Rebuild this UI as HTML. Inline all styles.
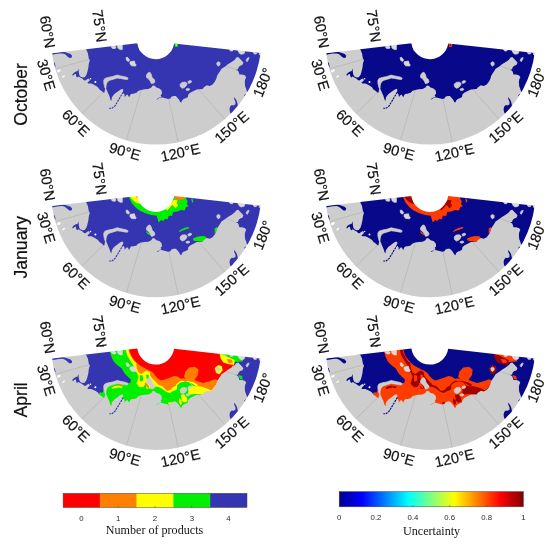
<!DOCTYPE html>
<html lang="en"><head><meta charset="utf-8"><title>Figure</title>
<style>html,body{margin:0;padding:0;background:#fff}svg{display:block}</style></head><body>
<svg width="550" height="544" viewBox="0 0 550 544">
<rect width="550" height="544" fill="#fff"/>
<defs>
<mask id="fan" maskUnits="userSpaceOnUse" x="0" y="0" width="320" height="200"><path d="M137.3,43.2 L52.0,53.2 A105.2,105.2 0 0 0 260.6,53.1 L174.1,43.4 A18.6,18.6 0 0 1 137.3,43.2 Z" fill="#fff"/></mask>
<clipPath id="landclip"><polygon points="86.0,49.0 87.9,53.2 88.8,58.4 89.9,60.0 88.8,63.7 88.4,67.4 87.6,71.0 86.5,74.7 84.7,77.3 82.5,77.6 80.3,76.5 79.2,74.7 78.7,71.8 78.5,68.5 77.6,71.0 75.5,71.8 73.7,72.9 72.2,74.7 72.9,75.8 74.4,74.3 75.9,74.0 76.2,76.2 77.0,77.6 78.5,76.5 80.3,77.6 82.5,78.8 84.0,80.2 85.4,80.6 87.3,79.1 89.1,78.4 89.9,80.2 88.4,81.7 87.3,82.8 88.4,83.5 91.3,83.5 93.5,84.6 95.7,85.7 97.9,87.2 99.4,89.4 101.6,90.9 103.8,92.7 104.4,92.4 105.1,88.4 106.0,88.0 106.8,89.9 107.9,92.8 109.3,95.7 110.4,99.4 111.3,100.9 111.9,97.2 114.1,94.3 117.1,92.1 120.0,89.9 122.2,88.8 123.3,89.7 122.9,92.8 124.4,94.3 124.8,97.2 125.9,95.4 127.4,94.6 129.2,97.2 129.9,95.4 131.0,93.9 135.0,93.4 133.7,93.5 136.6,92.8 138.1,91.0 141.0,89.9 144.7,89.3 148.4,89.0 151.3,87.6 152.8,85.4 154.6,85.8 156.5,87.6 159.4,88.4 161.6,90.6 162.0,93.5 160.5,95.4 161.6,96.5 159.4,97.6 157.9,98.3 156.5,99.4 157.6,99.2 160.1,97.4 162.4,97.6 165.3,98.3 168.2,99.0 170.3,98.6 171.4,96.8 173.6,96.0 175.8,96.0 177.6,97.9 179.1,99.7 180.2,101.9 181.3,102.6 182.1,100.4 183.5,99.0 185.7,98.2 187.9,97.1 188.3,94.6 190.1,92.7 193.1,91.2 196.8,89.4 202.5,89.0 204.0,87.2 204.6,86.8 206.8,85.3 209.7,86.0 212.6,84.6 214.9,81.6 216.3,78.7 217.1,75.7 218.5,73.5 220.0,71.3 221.5,68.8 224.4,66.9 227.9,64.3 231.6,62.1 234.6,59.9 236.4,57.6 238.2,57.1 240.1,59.1 242.3,61.3 243.4,62.8 242.3,65.0 240.1,65.7 238.6,67.2 237.9,69.4 236.0,69.4 238.2,70.9 239.0,73.1 239.3,74.6 241.9,74.6 244.5,75.3 245.1,75.5 246.2,77.4 245.1,79.6 244.8,82.5 245.1,86.2 246.2,89.1 247.0,91.7 247.7,92.1 300.0,100.0 300.0,200.0 0.0,200.0 0.0,40.0 40.0,40.0 60.0,47.0"/></clipPath>
<g id="land">
<g fill="#cdcdcd">
<polygon points="86.0,49.0 87.9,53.2 88.8,58.4 89.9,60.0 88.8,63.7 88.4,67.4 87.6,71.0 86.5,74.7 84.7,77.3 82.5,77.6 80.3,76.5 79.2,74.7 78.7,71.8 78.5,68.5 77.6,71.0 75.5,71.8 73.7,72.9 72.2,74.7 72.9,75.8 74.4,74.3 75.9,74.0 76.2,76.2 77.0,77.6 78.5,76.5 80.3,77.6 82.5,78.8 84.0,80.2 85.4,80.6 87.3,79.1 89.1,78.4 89.9,80.2 88.4,81.7 87.3,82.8 88.4,83.5 91.3,83.5 93.5,84.6 95.7,85.7 97.9,87.2 99.4,89.4 101.6,90.9 103.8,92.7 104.4,92.4 105.1,88.4 106.0,88.0 106.8,89.9 107.9,92.8 109.3,95.7 110.4,99.4 111.3,100.9 111.9,97.2 114.1,94.3 117.1,92.1 120.0,89.9 122.2,88.8 123.3,89.7 122.9,92.8 124.4,94.3 124.8,97.2 125.9,95.4 127.4,94.6 129.2,97.2 129.9,95.4 131.0,93.9 135.0,93.4 133.7,93.5 136.6,92.8 138.1,91.0 141.0,89.9 144.7,89.3 148.4,89.0 151.3,87.6 152.8,85.4 154.6,85.8 156.5,87.6 159.4,88.4 161.6,90.6 162.0,93.5 160.5,95.4 161.6,96.5 159.4,97.6 157.9,98.3 156.5,99.4 157.6,99.2 160.1,97.4 162.4,97.6 165.3,98.3 168.2,99.0 170.3,98.6 171.4,96.8 173.6,96.0 175.8,96.0 177.6,97.9 179.1,99.7 180.2,101.9 181.3,102.6 182.1,100.4 183.5,99.0 185.7,98.2 187.9,97.1 188.3,94.6 190.1,92.7 193.1,91.2 196.8,89.4 202.5,89.0 204.0,87.2 204.6,86.8 206.8,85.3 209.7,86.0 212.6,84.6 214.9,81.6 216.3,78.7 217.1,75.7 218.5,73.5 220.0,71.3 221.5,68.8 224.4,66.9 227.9,64.3 231.6,62.1 234.6,59.9 236.4,57.6 238.2,57.1 240.1,59.1 242.3,61.3 243.4,62.8 242.3,65.0 240.1,65.7 238.6,67.2 237.9,69.4 236.0,69.4 238.2,70.9 239.0,73.1 239.3,74.6 241.9,74.6 244.5,75.3 245.1,75.5 246.2,77.4 245.1,79.6 244.8,82.5 245.1,86.2 246.2,89.1 247.0,91.7 247.7,92.1 300.0,100.0 300.0,200.0 0.0,200.0 0.0,40.0 40.0,40.0 60.0,47.0"/>
<g stroke="#d2d2d2" stroke-width="0.7" stroke-linejoin="round">
<polygon points="103.8,80.3 104.9,78.5 108.2,77.4 112.6,76.6 117.1,75.1 120.7,75.9 125.9,77.0 128.1,78.1 127.4,79.6 124.4,79.2 120.7,78.5 117.1,78.1 113.4,79.2 109.7,80.3 107.5,81.8 106.4,84.0 106.0,86.2 106.0,88.0 105.1,88.4 104.4,85.8 103.8,83.2"/>
<polygon points="148.0,72.9 149.9,72.2 151.3,74.4 152.1,77.4 154.3,79.6 155.0,81.8 153.5,83.2 151.3,83.6 150.2,81.0 148.4,78.8 146.5,77.4 146.5,75.1"/>
<polygon points="180.1,84.3 181.9,82.4 185.2,82.1 187.1,83.5 186.3,85.7 184.5,87.6 182.3,88.3 180.4,86.8"/>
<polygon points="187.8,81.7 190.0,80.4 191.8,81.3 190.7,82.8 188.5,83.4"/>
<polygon points="186.0,89.0 188.5,88.3 190.0,89.4 188.2,90.5 186.3,90.3"/>
<polygon points="216.7,62.9 218.2,61.8 220.0,62.5 220.0,64.7 218.5,66.2 217.1,65.1"/>
<polygon points="111.2,46.7 114.6,45.9 116.0,47.0 115.3,48.5 112.4,48.4" fill="#dadada" stroke="#dadada"/>
<polygon points="117.5,45.6 122.3,44.8 122.3,49.6 120.1,49.6 117.9,48.1" fill="#dadada" stroke="#dadada"/>
<polygon points="126.0,57.7 127.4,57.3 129.6,59.9 128.5,61.4 126.7,60.6" fill="#dadada" stroke="#dadada"/>
<polygon points="130.0,61.7 134.4,61.0 135.1,63.6 136.2,65.0 135.5,66.1 131.5,65.8 130.0,63.9" fill="#dadada" stroke="#dadada"/>
<polygon points="229.4,49.2 233.1,49.7 232.7,51.0 230.5,51.0" fill="#dadada" stroke="#dadada"/>
<polygon points="237.9,50.4 244.9,51.4 244.1,53.6 241.2,54.3 239.3,53.2" fill="#dadada" stroke="#dadada"/>
<polygon points="253.3,52.4 256.8,52.9 256.2,54.0 254.0,53.8" fill="#dadada" stroke="#dadada"/>
<polygon points="259.2,53.1 261.0,53.4 260.7,55.8 259.6,54.7" fill="#dadada" stroke="#dadada"/>
<polygon points="246.0,60.2 247.4,58.0 249.1,57.6 248.5,59.5 247.1,61.7"/>
</g>
</g>
</g>
<g id="over">
<ellipse cx="58.8" cy="70.9" rx="2.0" ry="1.2" fill="#fff" transform="rotate(-30 58.8 70.9)"/>
<ellipse cx="63.6" cy="76.4" rx="1.7" ry="0.7" fill="#fff" transform="rotate(-40 63.6 76.4)"/>
<ellipse cx="95.4" cy="81.9" rx="1.0" ry="1.0" fill="#fff" transform="rotate(0 95.4 81.9)"/>
<ellipse cx="90.6" cy="78.8" rx="0.7" ry="0.7" fill="#fff" transform="rotate(0 90.6 78.8)"/>
<g stroke="#000" stroke-opacity="0.04" stroke-width="0.6" fill="none">
<line x1="139.9" y1="45.1" x2="52.5" y2="69.6"/>
<line x1="144.1" y1="52.3" x2="79.4" y2="116.0"/>
<line x1="151.2" y1="56.6" x2="125.4" y2="143.6"/>
<line x1="159.6" y1="56.9" x2="178.9" y2="145.6"/>
<line x1="167.0" y1="53.2" x2="226.8" y2="121.5"/>
<line x1="171.7" y1="46.3" x2="257.1" y2="77.2"/>
</g>
<g stroke="#000" stroke-opacity="0.12" stroke-width="0.6" fill="none" clip-path="url(#landclip)">
<line x1="139.9" y1="45.1" x2="52.5" y2="69.6"/>
<line x1="144.1" y1="52.3" x2="79.4" y2="116.0"/>
<line x1="151.2" y1="56.6" x2="125.4" y2="143.6"/>
<line x1="159.6" y1="56.9" x2="178.9" y2="145.6"/>
<line x1="167.0" y1="53.2" x2="226.8" y2="121.5"/>
<line x1="171.7" y1="46.3" x2="257.1" y2="77.2"/>
</g>
</g>
<g id="labels" font-family="'Liberation Sans', Arial, sans-serif" font-size="14.6" fill="#111" stroke="#111" stroke-width="0.2" text-anchor="middle">
<text transform="translate(46.4,74.8) rotate(73.4)" y="5.2">30°E</text>
<text transform="translate(75.9,122.8) rotate(44.3)" y="5.2">60°E</text>
<text transform="translate(124.9,151.4) rotate(15.7)" y="5.2">90°E</text>
<text transform="translate(180.4,152.4) rotate(-12.3)" y="5.2">120°E</text>
<text transform="translate(231.6,127.0) rotate(-41.2)" y="5.2">150°E</text>
<text transform="translate(262.7,82.4) rotate(-68.6)" y="5.2">180°</text>
<text transform="translate(47.6,32.0) rotate(80)" y="5.2">60°N</text>
<text transform="translate(99.7,26.0) rotate(82)" y="5.2">75°N</text>
</g>
<g id="inlets"><polygon points="52.0,53.1 57.4,52.2 61.8,51.6 64.7,52.1 67.6,53.1 70.6,54.0 72.1,55.8 71.7,57.6 69.9,58.0 68.0,56.9 66.5,55.4 64.7,54.0 62.5,53.4 58.8,53.6 54.4,54.3 52.6,54.7" stroke="none"/>
<polygon points="53.5,62.1 54.6,62.8 55.5,66.1 55.1,67.4 54.3,65.7" stroke="none"/>
<polygon points="233.9,97.0 235.4,98.8 236.8,101.0 237.6,104.0 237.9,106.9 235.0,111.0 231.3,114.6 229.9,112.1 229.5,109.1 230.2,106.5 231.7,105.1 233.5,105.4 235.4,104.3 235.4,101.8 234.3,99.6" stroke="none"/>
<polygon points="244.0,95.4 245.5,93.9 246.0,94.6 244.6,95.9" stroke="none"/>
<polyline points="123.2,92.1 121.5,95.0 119.3,98.7 117.1,102.4 114.9,106.0 111.9,108.2 109.3,108.4" fill="none" stroke-width="1.1" stroke-dasharray="2.2 0.8" class="obl"/></g>
<linearGradient id="jet" x1="0" x2="1" y1="0" y2="0">
<stop offset="0.000" stop-color="#00008f"/>
<stop offset="0.125" stop-color="#0000ff"/>
<stop offset="0.250" stop-color="#0080ff"/>
<stop offset="0.375" stop-color="#00ffff"/>
<stop offset="0.500" stop-color="#80ff80"/>
<stop offset="0.625" stop-color="#ffff00"/>
<stop offset="0.750" stop-color="#ff8000"/>
<stop offset="0.875" stop-color="#ff0000"/>
<stop offset="1.000" stop-color="#800000"/>
</linearGradient>
</defs>
<g transform="translate(0.0,0.0)">
<g mask="url(#fan)">
<rect x="40" y="20" width="240" height="140" fill="#3535b2"/>
<polygon points="174.3,43.2 178.3,43.7 177.9,46.8 175.0,47.0" fill="#00f000"/>
<polygon points="175.6,44.2 177.0,44.4 176.8,45.8 175.8,45.8" fill="#ffff00"/>
<polygon points="136.6,42.6 137.8,42.5 138.0,44.0 137.0,44.0" fill="#00f000"/>
<polygon points="139.0,49.6 140.2,49.4 140.6,50.8 139.6,51.0" fill="#00f000"/>
<use href="#land"/>
<use href="#inlets" fill="#3535b2" stroke="#3535b2"/>
<use href="#over"/>
</g>
<use href="#labels"/>
</g>
<g transform="translate(274.1,0.0)">
<g mask="url(#fan)">
<rect x="40" y="20" width="240" height="140" fill="#08088a"/>
<polygon points="174.3,43.2 178.3,43.7 177.9,46.8 175.0,47.0" fill="#ff3c00"/>
<polygon points="175.6,44.2 177.0,44.4 176.8,45.8 175.8,45.8" fill="#a00000"/>
<polygon points="136.6,42.6 137.8,42.5 138.0,44.0 137.0,44.0" fill="#ff3c00"/>
<polygon points="139.0,49.6 140.2,49.4 140.6,50.8 139.6,51.0" fill="#ff3c00"/>
<use href="#land"/>
<use href="#inlets" fill="#08088a" stroke="#08088a"/>
<use href="#over"/>
</g>
<use href="#labels"/>
</g>
<text transform="translate(27.3,94.5) rotate(-90)" font-family="'Liberation Sans', Arial, sans-serif" font-size="17.6" fill="#111" stroke="#111" stroke-width="0.2" text-anchor="middle">October</text>
<g transform="translate(0.0,152.7)">
<g mask="url(#fan)">
<rect x="40" y="20" width="240" height="140" fill="#3535b2"/>
<polygon points="128.8,37.3 129.0,41.7 129.1,44.8 131.5,50.0 135.7,54.7 139.5,57.7 145.3,60.5 151.2,62.2 156.7,63.0 157.5,66.0 158.6,69.8 161.3,67.1 164.6,67.1 165.7,63.2 170.1,62.7 172.4,59.4 173.2,59.4 177.6,58.8 181.0,57.2 184.8,57.7 185.9,54.9 188.7,53.3 187.0,51.6 187.6,48.3 185.9,45.6 185.6,41.7 185.6,37.3" fill="#00f000"/>
<polygon points="160.0,60.5 160.0,67.1 163.3,68.2 164.4,66.0 167.7,66.5 168.8,62.7 172.1,63.2 173.2,59.4" fill="#00f000"/>
<polygon points="130.0,40.6 137.6,39.5 138.7,47.2 140.6,51.1 137.1,50.5 133.7,48.3 130.2,44.4" fill="#ffff00"/>
<polygon points="136.0,39.5 138.8,39.5 138.8,45.0 136.5,44.8" fill="#ff8000"/>
<polygon points="166.1,56.6 168.3,53.8 171.0,50.5 174.1,47.0 177.6,47.8 176.5,50.5 178.2,52.7 175.4,55.5 173.2,53.0 172.1,52.4 169.4,55.5 167.2,57.7" fill="#ffff00"/>
<polygon points="174.7,39.5 185.6,40.6 185.6,44.6 183.7,46.7 179.9,47.4 174.7,46.9" fill="#ff8000"/>
<polygon points="191.2,46.1 192.5,45.9 193.3,49.2 192.0,49.7" fill="#00f000"/>
<polygon points="178.7,78.7 181.5,76.5 185.4,74.8 189.2,74.2 188.7,75.9 184.8,77.0 181.5,78.3 179.3,79.4" fill="#00f000"/>
<polygon points="193.1,85.8 196.4,84.2 200.8,83.4 205.2,83.6 206.9,85.3 204.7,87.5 202.5,89.1 198.6,88.6 195.3,88.3 193.1,87.5" fill="#00f000"/>
<polygon points="214.6,75.9 216.8,74.2 217.4,75.9 216.2,79.2 214.6,80.9" fill="#00f000"/>
<polygon points="145.9,78.7 147.5,79.2 150.3,81.4 149.7,82.5 147.0,80.9" fill="#00f000"/>
<use href="#land"/>
<use href="#inlets" fill="#3535b2" stroke="#3535b2"/>
<use href="#over"/>
</g>
<use href="#labels"/>
</g>
<g transform="translate(274.1,152.7)">
<g mask="url(#fan)">
<rect x="40" y="20" width="240" height="140" fill="#08088a"/>
<polygon points="128.8,37.3 129.0,41.7 129.1,44.8 131.5,50.0 135.7,54.7 139.5,57.7 145.3,60.5 151.2,62.2 156.7,63.0 157.5,66.0 158.6,69.8 161.3,67.1 164.6,67.1 165.7,63.2 170.1,62.7 172.4,59.4 173.2,59.4 177.6,58.8 181.0,57.2 184.8,57.7 185.9,54.9 188.7,53.3 187.0,51.6 187.6,48.3 185.9,45.6 185.6,41.7 185.6,37.3" fill="#ff3c00"/>
<polygon points="160.0,60.5 160.0,67.1 163.3,68.2 164.4,66.0 167.7,66.5 168.8,62.7 172.1,63.2 173.2,59.4" fill="#ff3c00"/>
<polygon points="130.0,40.6 137.6,39.5 138.7,47.2 140.6,51.1 137.1,50.5 133.7,48.3 130.2,44.4" fill="#a00000"/>
<polygon points="136.0,39.5 138.8,39.5 138.8,45.0 136.5,44.8" fill="#ff3c00"/>
<polygon points="166.1,56.6 168.3,53.8 171.0,50.5 174.1,47.0 177.6,47.8 176.5,50.5 178.2,52.7 175.4,55.5 173.2,53.0 172.1,52.4 169.4,55.5 167.2,57.7" fill="#a00000"/>
<polygon points="174.7,39.5 185.6,40.6 185.6,44.6 183.7,46.7 179.9,47.4 174.7,46.9" fill="#ff3c00"/>
<polygon points="191.2,46.1 192.5,45.9 193.3,49.2 192.0,49.7" fill="#ff3c00"/>
<polygon points="178.7,78.7 181.5,76.5 185.4,74.8 189.2,74.2 188.7,75.9 184.8,77.0 181.5,78.3 179.3,79.4" fill="#ff3c00"/>
<polygon points="193.1,85.8 196.4,84.2 200.8,83.4 205.2,83.6 206.9,85.3 204.7,87.5 202.5,89.1 198.6,88.6 195.3,88.3 193.1,87.5" fill="#ff3c00"/>
<polygon points="214.6,75.9 216.8,74.2 217.4,75.9 216.2,79.2 214.6,80.9" fill="#ff3c00"/>
<polygon points="145.9,78.7 147.5,79.2 150.3,81.4 149.7,82.5 147.0,80.9" fill="#ff3c00"/>
<use href="#land"/>
<use href="#inlets" fill="#08088a" stroke="#08088a"/>
<use href="#over"/>
</g>
<use href="#labels"/>
</g>
<text transform="translate(27.3,247.2) rotate(-90)" font-family="'Liberation Sans', Arial, sans-serif" font-size="17.6" fill="#111" stroke="#111" stroke-width="0.2" text-anchor="middle">January</text>
<g transform="translate(0.0,305.4)">
<g mask="url(#fan)">
<rect x="40" y="20" width="240" height="140" fill="#3535b2"/>
<polygon points="108.8,35.2 109.9,46.2 111.5,51.7 113.7,56.1 117.1,59.5 121.5,62.8 124.8,68.3 128.1,71.6 130.8,74.0 130.5,77.1 128.1,78.0 122.6,77.1 117.1,77.7 111.5,78.8 106.0,81.0 103.8,83.7 102.7,87.0 99.4,87.0 98.3,91.4 104.0,100.0 112.0,101.0 125.0,97.0 135.0,97.0 150.0,97.0 157.0,101.0 165.0,100.0 175.0,102.0 182.0,104.0 190.0,101.0 200.0,95.0 215.0,85.0 232.0,66.0 234.3,56.7 242.6,56.1 243.5,52.1 243.9,45.6 243.9,27.2" fill="#00f000"/>
<polygon points="125.2,35.2 125.4,44.0 125.9,45.1 127.0,49.5 129.2,53.4 131.4,57.2 134.2,61.1 135.5,65.0 136.9,67.7 138.6,71.0 137.5,74.9 136.4,78.2 139.1,81.3 141.9,81.3 144.6,78.2 140.0,82.2 143.3,81.7 145.5,78.3 146.6,83.3 149.9,83.0 154.3,81.1 158.7,81.7 162.1,83.3 166.5,86.6 169.8,87.7 173.1,85.5 176.4,84.7 177.5,81.7 178.6,78.9 181.9,77.2 185.2,76.1 188.5,76.7 190.7,78.6 192.9,80.6 190.2,77.2 195.7,80.6 202.2,82.8 207.7,85.2 209.5,87.4 214.1,84.2 218.2,77.8 221.5,72.3 225.1,68.1 230.7,64.0 234.3,58.5 234.7,54.5 230.7,52.6 225.1,49.9 220.6,48.6 219.6,42.0 219.6,27.2" fill="#ffff00"/>
<polygon points="187.4,81.7 191.8,80.0 200.0,81.7 200.0,88.5 195.1,88.5 190.7,89.2 188.0,88.5 188.5,85.0" fill="#ffff00"/>
<polygon points="180.8,89.4 184.1,88.8 186.9,92.7 187.6,96.0 184.1,97.1 181.9,95.4" fill="#ffff00"/>
<polygon points="179.2,92.7 181.4,94.9 181.9,98.4 180.3,99.5 178.8,96.0" fill="#ffff00"/>
<polygon points="168.1,96.9 171.4,96.9 170.9,99.1 168.5,99.1" fill="#ffff00"/>
<polygon points="111.5,82.1 114.3,80.6 118.7,79.9 122.6,80.6 122.0,82.8 118.7,82.1 114.9,82.8 112.1,83.5" fill="#ffff00"/>
<polygon points="176.9,80.0 180.3,77.2 185.2,76.4 189.1,77.2 191.0,79.5 189.6,82.2 187.4,83.3 186.9,87.7 183.6,88.5 180.3,87.2 178.1,84.4" fill="#00f000"/>
<polygon points="140.0,69.5 142.8,70.1 143.1,75.0 141.1,76.1 140.0,75.6" fill="#00f000"/>
<polygon points="146.1,69.0 148.8,69.5 148.6,73.9 146.6,73.4" fill="#00f000"/>
<polygon points="224.4,42.0 243.9,42.0 243.9,51.5 242.6,55.7 238.0,54.8 234.3,53.9 228.8,52.1 224.8,49.3" fill="#00f000"/>
<polygon points="238.4,69.5 242.1,70.6 242.8,74.3 239.9,73.6" fill="#00f000"/>
<polygon points="197.0,82.0 208.0,80.0 213.0,84.0 208.0,88.0 203.0,89.5 198.0,88.0" fill="#ffff00"/>
<polygon points="128.2,35.2 128.4,44.0 129.6,48.4 131.8,52.3 134.0,56.1 136.0,57.2 136.9,63.3 138.6,67.2 141.3,68.5 144.6,66.1 146.8,65.0 150.1,67.2 149.9,69.5 152.1,72.8 155.4,76.1 158.7,79.5 162.1,80.6 164.8,83.3 167.0,85.5 170.9,84.4 173.1,81.7 175.3,80.6 176.9,78.3 179.7,76.1 181.9,75.0 184.1,76.1 187.4,75.6 190.7,76.1 194.0,77.2 197.4,78.9 197.6,80.6 203.1,81.5 207.7,83.3 211.4,85.2 215.0,80.6 218.2,76.0 218.2,71.4 206.8,62.2 188.4,53.0 179.2,42.0 179.2,27.2" fill="#ff8000"/>
<polygon points="226.6,53.7 231.6,54.1 233.1,57.0 228.8,57.9" fill="#ff8000"/>
<polygon points="117.6,80.2 120.4,79.5 122.6,80.2 122.0,81.3 119.8,80.6 117.9,81.1" fill="#ff8000"/>
<polygon points="144.4,78.3 146.1,77.2 149.4,81.7 148.3,83.0" fill="#ff8000"/>
<polygon points="128.7,35.2 129.0,44.0 131.4,50.6 134.7,55.0 139.1,59.5 143.5,62.2 147.9,64.4 152.4,66.6 144.4,62.9 149.9,65.1 153.2,67.3 155.4,70.6 158.2,73.4 161.0,75.0 165.4,73.9 169.8,72.3 174.2,70.6 177.5,71.2 180.8,73.4 183.6,72.8 187.4,74.5 191.8,74.5 194.0,73.4 196.2,75.0 200.0,76.1 193.0,73.6 197.6,75.8 203.1,77.6 209.5,75.8 215.0,73.9 218.2,75.4 219.6,73.2 225.1,67.7 230.7,64.0 233.4,59.4 228.8,58.9 223.3,57.0 220.6,53.0 219.6,48.4 219.3,42.0 219.3,27.2" fill="#ff0000"/>
<polygon points="185.6,65.8 189.3,62.2 194.8,61.3 198.5,64.0 197.9,69.5 195.4,73.2 192.4,76.0 186.9,75.4 184.0,71.4" fill="#ff8000"/>
<polygon points="214.7,62.5 218.2,59.6 221.8,60.7 222.6,64.9 219.6,68.8 216.0,67.7" fill="#ffff00"/>
<use href="#land"/>
<use href="#inlets" fill="#3535b2" stroke="#3535b2"/>
<use href="#over"/>
</g>
<use href="#labels"/>
</g>
<g transform="translate(274.1,305.4)">
<g mask="url(#fan)">
<rect x="40" y="20" width="240" height="140" fill="#08088a"/>
<polygon points="108.8,35.2 109.9,46.2 111.5,51.7 113.7,56.1 117.1,59.5 121.5,62.8 124.8,68.3 128.1,71.6 130.8,74.0 130.5,77.1 128.1,78.0 122.6,77.1 117.1,77.7 111.5,78.8 106.0,81.0 103.8,83.7 102.7,87.0 99.4,87.0 98.3,91.4 104.0,100.0 112.0,101.0 125.0,97.0 135.0,97.0 150.0,97.0 157.0,101.0 165.0,100.0 175.0,102.0 182.0,104.0 190.0,101.0 200.0,95.0 215.0,85.0 232.0,66.0 234.3,56.7 242.6,56.1 243.5,52.1 243.9,45.6 243.9,27.2" fill="#ff3c00"/>
<polygon points="125.2,35.2 125.4,44.0 125.9,45.1 127.0,49.5 129.2,53.4 131.4,57.2 134.2,61.1 135.5,65.0 136.9,67.7 138.6,71.0 137.5,74.9 136.4,78.2 139.1,81.3 141.9,81.3 144.6,78.2 140.0,82.2 143.3,81.7 145.5,78.3 146.6,83.3 149.9,83.0 154.3,81.1 158.7,81.7 162.1,83.3 166.5,86.6 169.8,87.7 173.1,85.5 176.4,84.7 177.5,81.7 178.6,78.9 181.9,77.2 185.2,76.1 188.5,76.7 190.7,78.6 192.9,80.6 190.2,77.2 195.7,80.6 202.2,82.8 207.7,85.2 209.5,87.4 214.1,84.2 218.2,77.8 221.5,72.3 225.1,68.1 230.7,64.0 234.3,58.5 234.7,54.5 230.7,52.6 225.1,49.9 220.6,48.6 219.6,42.0 219.6,27.2" fill="#a00000"/>
<polygon points="187.4,81.7 191.8,80.0 200.0,81.7 200.0,88.5 195.1,88.5 190.7,89.2 188.0,88.5 188.5,85.0" fill="#a00000"/>
<polygon points="180.8,89.4 184.1,88.8 186.9,92.7 187.6,96.0 184.1,97.1 181.9,95.4" fill="#a00000"/>
<polygon points="179.2,92.7 181.4,94.9 181.9,98.4 180.3,99.5 178.8,96.0" fill="#a00000"/>
<polygon points="168.1,96.9 171.4,96.9 170.9,99.1 168.5,99.1" fill="#a00000"/>
<polygon points="111.5,82.1 114.3,80.6 118.7,79.9 122.6,80.6 122.0,82.8 118.7,82.1 114.9,82.8 112.1,83.5" fill="#a00000"/>
<polygon points="176.9,80.0 180.3,77.2 185.2,76.4 189.1,77.2 191.0,79.5 189.6,82.2 187.4,83.3 186.9,87.7 183.6,88.5 180.3,87.2 178.1,84.4" fill="#ff3c00"/>
<polygon points="140.0,69.5 142.8,70.1 143.1,75.0 141.1,76.1 140.0,75.6" fill="#ff3c00"/>
<polygon points="146.1,69.0 148.8,69.5 148.6,73.9 146.6,73.4" fill="#ff3c00"/>
<polygon points="224.4,42.0 243.9,42.0 243.9,51.5 242.6,55.7 238.0,54.8 234.3,53.9 228.8,52.1 224.8,49.3" fill="#ff3c00"/>
<polygon points="238.4,69.5 242.1,70.6 242.8,74.3 239.9,73.6" fill="#ff3c00"/>
<polygon points="197.0,82.0 208.0,80.0 213.0,84.0 208.0,88.0 203.0,89.5 198.0,88.0" fill="#a00000"/>
<polygon points="128.2,35.2 128.4,44.0 129.6,48.4 131.8,52.3 134.0,56.1 136.0,57.2 136.9,63.3 138.6,67.2 141.3,68.5 144.6,66.1 146.8,65.0 150.1,67.2 149.9,69.5 152.1,72.8 155.4,76.1 158.7,79.5 162.1,80.6 164.8,83.3 167.0,85.5 170.9,84.4 173.1,81.7 175.3,80.6 176.9,78.3 179.7,76.1 181.9,75.0 184.1,76.1 187.4,75.6 190.7,76.1 194.0,77.2 197.4,78.9 197.6,80.6 203.1,81.5 207.7,83.3 211.4,85.2 215.0,80.6 218.2,76.0 218.2,71.4 206.8,62.2 188.4,53.0 179.2,42.0 179.2,27.2" fill="#ff3c00"/>
<polygon points="226.6,53.7 231.6,54.1 233.1,57.0 228.8,57.9" fill="#ff3c00"/>
<polygon points="117.6,80.2 120.4,79.5 122.6,80.2 122.0,81.3 119.8,80.6 117.9,81.1" fill="#ff3c00"/>
<polygon points="144.4,78.3 146.1,77.2 149.4,81.7 148.3,83.0" fill="#ff3c00"/>
<polygon points="128.7,35.2 129.0,44.0 131.4,50.6 134.7,55.0 139.1,59.5 143.5,62.2 147.9,64.4 152.4,66.6 144.4,62.9 149.9,65.1 153.2,67.3 155.4,70.6 158.2,73.4 161.0,75.0 165.4,73.9 169.8,72.3 174.2,70.6 177.5,71.2 180.8,73.4 183.6,72.8 187.4,74.5 191.8,74.5 194.0,73.4 196.2,75.0 200.0,76.1 193.0,73.6 197.6,75.8 203.1,77.6 209.5,75.8 215.0,73.9 218.2,75.4 219.6,73.2 225.1,67.7 230.7,64.0 233.4,59.4 228.8,58.9 223.3,57.0 220.6,53.0 219.6,48.4 219.3,42.0 219.3,27.2" fill="#08088a"/>
<polygon points="185.6,65.8 189.3,62.2 194.8,61.3 198.5,64.0 197.9,69.5 195.4,73.2 192.4,76.0 186.9,75.4 184.0,71.4" fill="#ff3c00"/>
<polygon points="214.7,62.5 218.2,59.6 221.8,60.7 222.6,64.9 219.6,68.8 216.0,67.7" fill="#a00000"/>
<use href="#land"/>
<use href="#inlets" fill="#08088a" stroke="#08088a"/>
<use href="#over"/>
</g>
<use href="#labels"/>
</g>
<text transform="translate(27.3,399.9) rotate(-90)" font-family="'Liberation Sans', Arial, sans-serif" font-size="17.6" fill="#111" stroke="#111" stroke-width="0.2" text-anchor="middle">April</text>
<rect x="63.10" y="493.30" width="36.96" height="14.20" fill="#ff0000"/>
<rect x="99.86" y="493.30" width="36.96" height="14.20" fill="#ff8000"/>
<rect x="136.62" y="493.30" width="36.96" height="14.20" fill="#ffff00"/>
<rect x="173.38" y="493.30" width="36.96" height="14.20" fill="#00f000"/>
<rect x="210.14" y="493.30" width="36.96" height="14.20" fill="#3535b2"/>
<rect x="63.10" y="493.30" width="183.80" height="14.20" fill="none" stroke="#444" stroke-width="0.5"/>
<g font-family="'Liberation Sans', Arial, sans-serif" font-size="7.8" fill="#2a2a2a" text-anchor="middle">
<line x1="81.5" y1="505.9" x2="81.5" y2="507.5" stroke="#444" stroke-width="0.5"/>
<text x="81.5" y="520.9">0</text>
<line x1="118.2" y1="505.9" x2="118.2" y2="507.5" stroke="#444" stroke-width="0.5"/>
<text x="118.2" y="520.9">1</text>
<line x1="155.0" y1="505.9" x2="155.0" y2="507.5" stroke="#444" stroke-width="0.5"/>
<text x="155.0" y="520.9">2</text>
<line x1="191.8" y1="505.9" x2="191.8" y2="507.5" stroke="#444" stroke-width="0.5"/>
<text x="191.8" y="520.9">3</text>
<line x1="228.5" y1="505.9" x2="228.5" y2="507.5" stroke="#444" stroke-width="0.5"/>
<text x="228.5" y="520.9">4</text>
</g>
<text x="154.5" y="534.3" font-family="'Liberation Serif', 'Times New Roman', serif" font-size="12.1" fill="#151515" text-anchor="middle">Number of products</text>
<rect x="339.20" y="491.60" width="184.20" height="15.20" fill="url(#jet)" stroke="#444" stroke-width="0.5"/>
<g font-family="'Liberation Sans', Arial, sans-serif" font-size="7.8" fill="#2a2a2a" text-anchor="middle">
<text x="339.2" y="519.5">0</text>
<line x1="376.0" y1="505.2" x2="376.0" y2="506.8" stroke="#444" stroke-width="0.5"/>
<text x="376.0" y="519.5">0.2</text>
<line x1="412.9" y1="505.2" x2="412.9" y2="506.8" stroke="#444" stroke-width="0.5"/>
<text x="412.9" y="519.5">0.4</text>
<line x1="449.7" y1="505.2" x2="449.7" y2="506.8" stroke="#444" stroke-width="0.5"/>
<text x="449.7" y="519.5">0.6</text>
<line x1="486.6" y1="505.2" x2="486.6" y2="506.8" stroke="#444" stroke-width="0.5"/>
<text x="486.6" y="519.5">0.8</text>
<text x="523.4" y="519.5">1</text>
</g>
<text x="431.6" y="535" font-family="'Liberation Serif', 'Times New Roman', serif" font-size="12.1" fill="#151515" text-anchor="middle">Uncertainty</text>
</svg></body></html>
